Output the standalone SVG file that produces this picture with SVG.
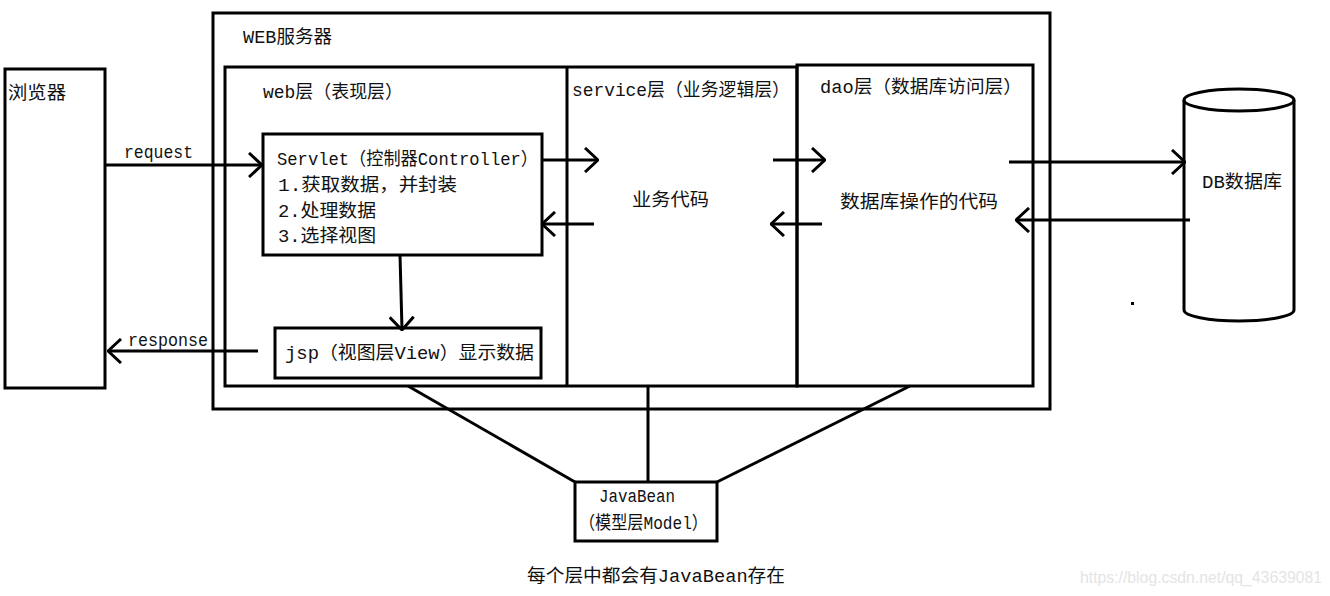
<svg xmlns="http://www.w3.org/2000/svg" width="1330" height="596" viewBox="0 0 1330 596">
<style>
.box{fill:none;stroke:#000;stroke-width:3}
.ln{fill:none;stroke:#000;stroke-width:3}
.arr{fill:none;stroke:#000;stroke-width:3;marker-end:url(#chev)}
.t{font-family:"Liberation Mono","Noto Sans CJK SC",monospace;font-size:18px;fill:#111}
.wm{font-family:"Liberation Sans","Noto Sans",sans-serif;font-size:16px;fill:#e4e4e4}
</style>
<defs>
<marker id="chev" viewBox="0 0 15 26" refX="14" refY="13" markerWidth="15" markerHeight="26" markerUnits="userSpaceOnUse" orient="auto">
<path d="M1,1 L14,13 L1,25" fill="none" stroke="#000" stroke-width="3"/>
</marker>
</defs>
<rect width="1330" height="596" fill="#fff"/>

<g id="browser">
<rect class="box" x="5" y="69" width="100" height="319"/>
<text class="t" x="8" y="99" textLength="58" lengthAdjust="spacingAndGlyphs">浏览器</text>
</g>

<g id="web-server">
<rect class="box" x="213" y="13" width="837" height="396"/>
<text class="t" x="243" y="43" textLength="89" lengthAdjust="spacingAndGlyphs">WEB服务器</text>
</g>

<g id="web-layer">
<rect class="box" x="225" y="67" width="572" height="319"/>
<text class="t" x="263" y="98" textLength="140" lengthAdjust="spacingAndGlyphs">web层（表现层）</text>
</g>

<g id="service-layer">
<line class="ln" x1="567" y1="67" x2="567" y2="386"/>
<text class="t" x="572" y="96" textLength="218" lengthAdjust="spacingAndGlyphs">service层（业务逻辑层）</text>
<text class="t" x="632" y="206" textLength="77" lengthAdjust="spacingAndGlyphs">业务代码</text>
</g>

<g id="dao-layer">
<rect class="box" x="797" y="65" width="236" height="321"/>
<text class="t" x="820" y="93" textLength="202" lengthAdjust="spacingAndGlyphs">dao层（数据库访问层）</text>
<text class="t" x="840" y="208" textLength="158" lengthAdjust="spacingAndGlyphs">数据库操作的代码</text>
</g>

<g id="servlet">
<rect class="box" x="263" y="134" width="279" height="121"/>
<text class="t" x="277" y="165" textLength="261" lengthAdjust="spacingAndGlyphs">Servlet（控制器Controller）</text>
<text class="t" x="278" y="191" textLength="179" lengthAdjust="spacingAndGlyphs">1.获取数据，并封装</text>
<text class="t" x="278" y="217" textLength="98" lengthAdjust="spacingAndGlyphs">2.处理数据</text>
<text class="t" x="278" y="242" textLength="98" lengthAdjust="spacingAndGlyphs">3.选择视图</text>
</g>

<g id="jsp">
<rect class="box" x="275" y="328" width="266" height="50"/>
<text class="t" x="285" y="359" textLength="249" lengthAdjust="spacingAndGlyphs">jsp（视图层View）显示数据</text>
</g>

<g id="database">
<path class="box" d="M1184,100 L1184,310 A55,11 0 0 0 1294,310 L1294,100"/>
<ellipse class="box" cx="1239" cy="100" rx="55" ry="11"/>
<text class="t" x="1202" y="188" textLength="80" lengthAdjust="spacingAndGlyphs">DB数据库</text>
</g>

<g id="javabean">
<rect class="box" x="575" y="482" width="142" height="59"/>
<text class="t" x="599" y="502" textLength="76" lengthAdjust="spacingAndGlyphs">JavaBean</text>
<text class="t" x="579" y="529" textLength="129" lengthAdjust="spacingAndGlyphs">（模型层Model）</text>
</g>

<g id="connectors">
<line class="arr" x1="105" y1="165" x2="262" y2="165"/>
<text class="t" x="124" y="158" textLength="69" lengthAdjust="spacingAndGlyphs">request</text>
<line class="arr" x1="258" y1="351" x2="108" y2="351"/>
<text class="t" x="128" y="346" textLength="80" lengthAdjust="spacingAndGlyphs">response</text>
<line class="arr" x1="542" y1="160" x2="598" y2="160"/>
<line class="arr" x1="594" y1="224" x2="542" y2="224"/>
<line class="arr" x1="773" y1="160" x2="825" y2="160"/>
<line class="arr" x1="822" y1="224" x2="771" y2="224"/>
<line class="arr" x1="1009" y1="162" x2="1185" y2="162"/>
<line class="arr" x1="1190" y1="220" x2="1016" y2="220"/>
<polyline class="arr" points="400,255 401,292 402,330"/>
<line class="ln" x1="408" y1="386" x2="575" y2="482"/>
<line class="ln" x1="648" y1="386" x2="648" y2="482"/>
<line class="ln" x1="910" y1="386" x2="717" y2="482"/>
</g>

<rect x="1131" y="302" width="3" height="3" fill="#000"/>
<text class="t" x="527" y="582" textLength="258" lengthAdjust="spacingAndGlyphs">每个层中都会有JavaBean存在</text>
<text class="wm" x="1080" y="583" textLength="242" lengthAdjust="spacingAndGlyphs">https://blog.csdn.net/qq_43639081</text>
</svg>
